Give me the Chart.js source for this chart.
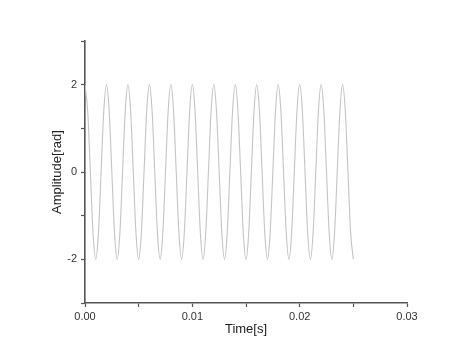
<!DOCTYPE html>
<html>
<head>
<meta charset="utf-8">
<script src="https://cdn.jsdelivr.net/npm/chart.js@4/dist/chart.umd.min.js"></script>
<style>
html,body{margin:0;padding:0;background:#fff;}
#wrap{width:474px;height:362px;position:relative;}
</style>
</head>
<body>
<div id="wrap"><canvas id="c" width="474" height="362"></canvas></div>
<script>
// Time samples [s] (every 1/8 of a 0.002 s period)
const times = [
  0.00000,0.00025,0.00050,0.00075,0.00100,0.00125,0.00150,0.00175,
  0.00200,0.00225,0.00250,0.00275,0.00300,0.00325,0.00350,0.00375,
  0.00400,0.00425,0.00450,0.00475,0.00500,0.00525,0.00550,0.00575,
  0.00600,0.00625,0.00650,0.00675,0.00700,0.00725,0.00750,0.00775,
  0.00800,0.00825,0.00850,0.00875,0.00900,0.00925,0.00950,0.00975,
  0.01000,0.01025,0.01050,0.01075,0.01100,0.01125,0.01150,0.01175,
  0.01200,0.01225,0.01250,0.01275,0.01300,0.01325,0.01350,0.01375,
  0.01400,0.01425,0.01450,0.01475,0.01500,0.01525,0.01550,0.01575,
  0.01600,0.01625,0.01650,0.01675,0.01700,0.01725,0.01750,0.01775,
  0.01800,0.01825,0.01850,0.01875,0.01900,0.01925,0.01950,0.01975,
  0.02000,0.02025,0.02050,0.02075,0.02100,0.02125,0.02150,0.02175,
  0.02200,0.02225,0.02250,0.02275,0.02300,0.02325,0.02350,0.02375,
  0.02400,0.02425,0.02450,0.02475,0.02500
];
// Amplitude [rad]
const amplitude = [
  2,1.4,0,-1.4,-2,-1.4,0,1.4,
  2,1.4,0,-1.4,-2,-1.4,0,1.4,
  2,1.4,0,-1.4,-2,-1.4,0,1.4,
  2,1.4,0,-1.4,-2,-1.4,0,1.4,
  2,1.4,0,-1.4,-2,-1.4,0,1.4,
  2,1.4,0,-1.4,-2,-1.4,0,1.4,
  2,1.4,0,-1.4,-2,-1.4,0,1.4,
  2,1.4,0,-1.4,-2,-1.4,0,1.4,
  2,1.4,0,-1.4,-2,-1.4,0,1.4,
  2,1.4,0,-1.4,-2,-1.4,0,1.4,
  2,1.4,0,-1.4,-2,-1.4,0,1.4,
  2,1.4,0,-1.4,-2,-1.4,0,1.4,
  2,1.4,0,-1.4,-2
];
const xTickLabels = ["0.00","0.01","0.02","0.03"];
const yTickLabels = ["-2","0","2"];

const FONT = "'Liberation Sans', Arial, sans-serif";
const AXIS = '#555555';

const points = times.map((t,i)=>({x:t,y:amplitude[i]}));

new Chart(document.getElementById('c'), {
  type: 'line',
  data: {
    datasets: [{
      data: points,
      borderColor: '#c4c4c4',
      borderWidth: 1.1,
      pointRadius: 0,
      fill: false,
      cubicInterpolationMode: 'monotone'
    }]
  },
  options: {
    responsive: false,
    animation: false,
    layout: { padding: { left: 50, right: 67, top: 41, bottom: 25 } },
    plugins: { legend: { display: false }, tooltip: { enabled: false } },
    scales: {
      x: {
        type: 'linear',
        min: 0, max: 0.03,
        afterFit: s => { s.height = 34; },
        afterBuildTicks: s => {
          const arr = [];
          for (let k = 0; k <= 6; k++) arr.push({ value: k * 0.005 });
          s.ticks = arr;
        },
        ticks: {
          autoSkip: false,
          maxRotation: 0,
          padding: 3,
          color: '#333',
          font: { family: FONT, size: 11 },
          callback: (v, i) => (i % 2 === 0 ? xTickLabels[i / 2] : '')
        },
        grid: { drawOnChartArea: false, tickLength: 4, tickColor: AXIS, tickWidth: 1.2 },
        border: { display: true, color: AXIS, width: 1.6 },
        title: { display: true, text: 'Time[s]', color: '#222', padding: 0, font: { family: FONT, size: 13 } }
      },
      y: {
        type: 'linear',
        min: -3, max: 3,
        afterFit: s => { s.width = 35; },
        afterBuildTicks: s => {
          const arr = [];
          for (let v = -3; v <= 3; v++) arr.push({ value: v });
          s.ticks = arr;
        },
        ticks: {
          autoSkip: false,
          padding: 4,
          color: '#333',
          font: { family: FONT, size: 11 },
          callback: (v) => {
            const idx = [-2, 0, 2].indexOf(v);
            return idx >= 0 ? yTickLabels[idx] : '';
          }
        },
        grid: { drawOnChartArea: false, tickLength: 4, tickColor: AXIS, tickWidth: 1.2 },
        border: { display: true, color: AXIS, width: 1.6 },
        title: { display: true, text: 'Amplitude[rad]', color: '#222', padding: 0, font: { family: FONT, size: 13 } }
      }
    }
  }
});
</script>
</body>
</html>
